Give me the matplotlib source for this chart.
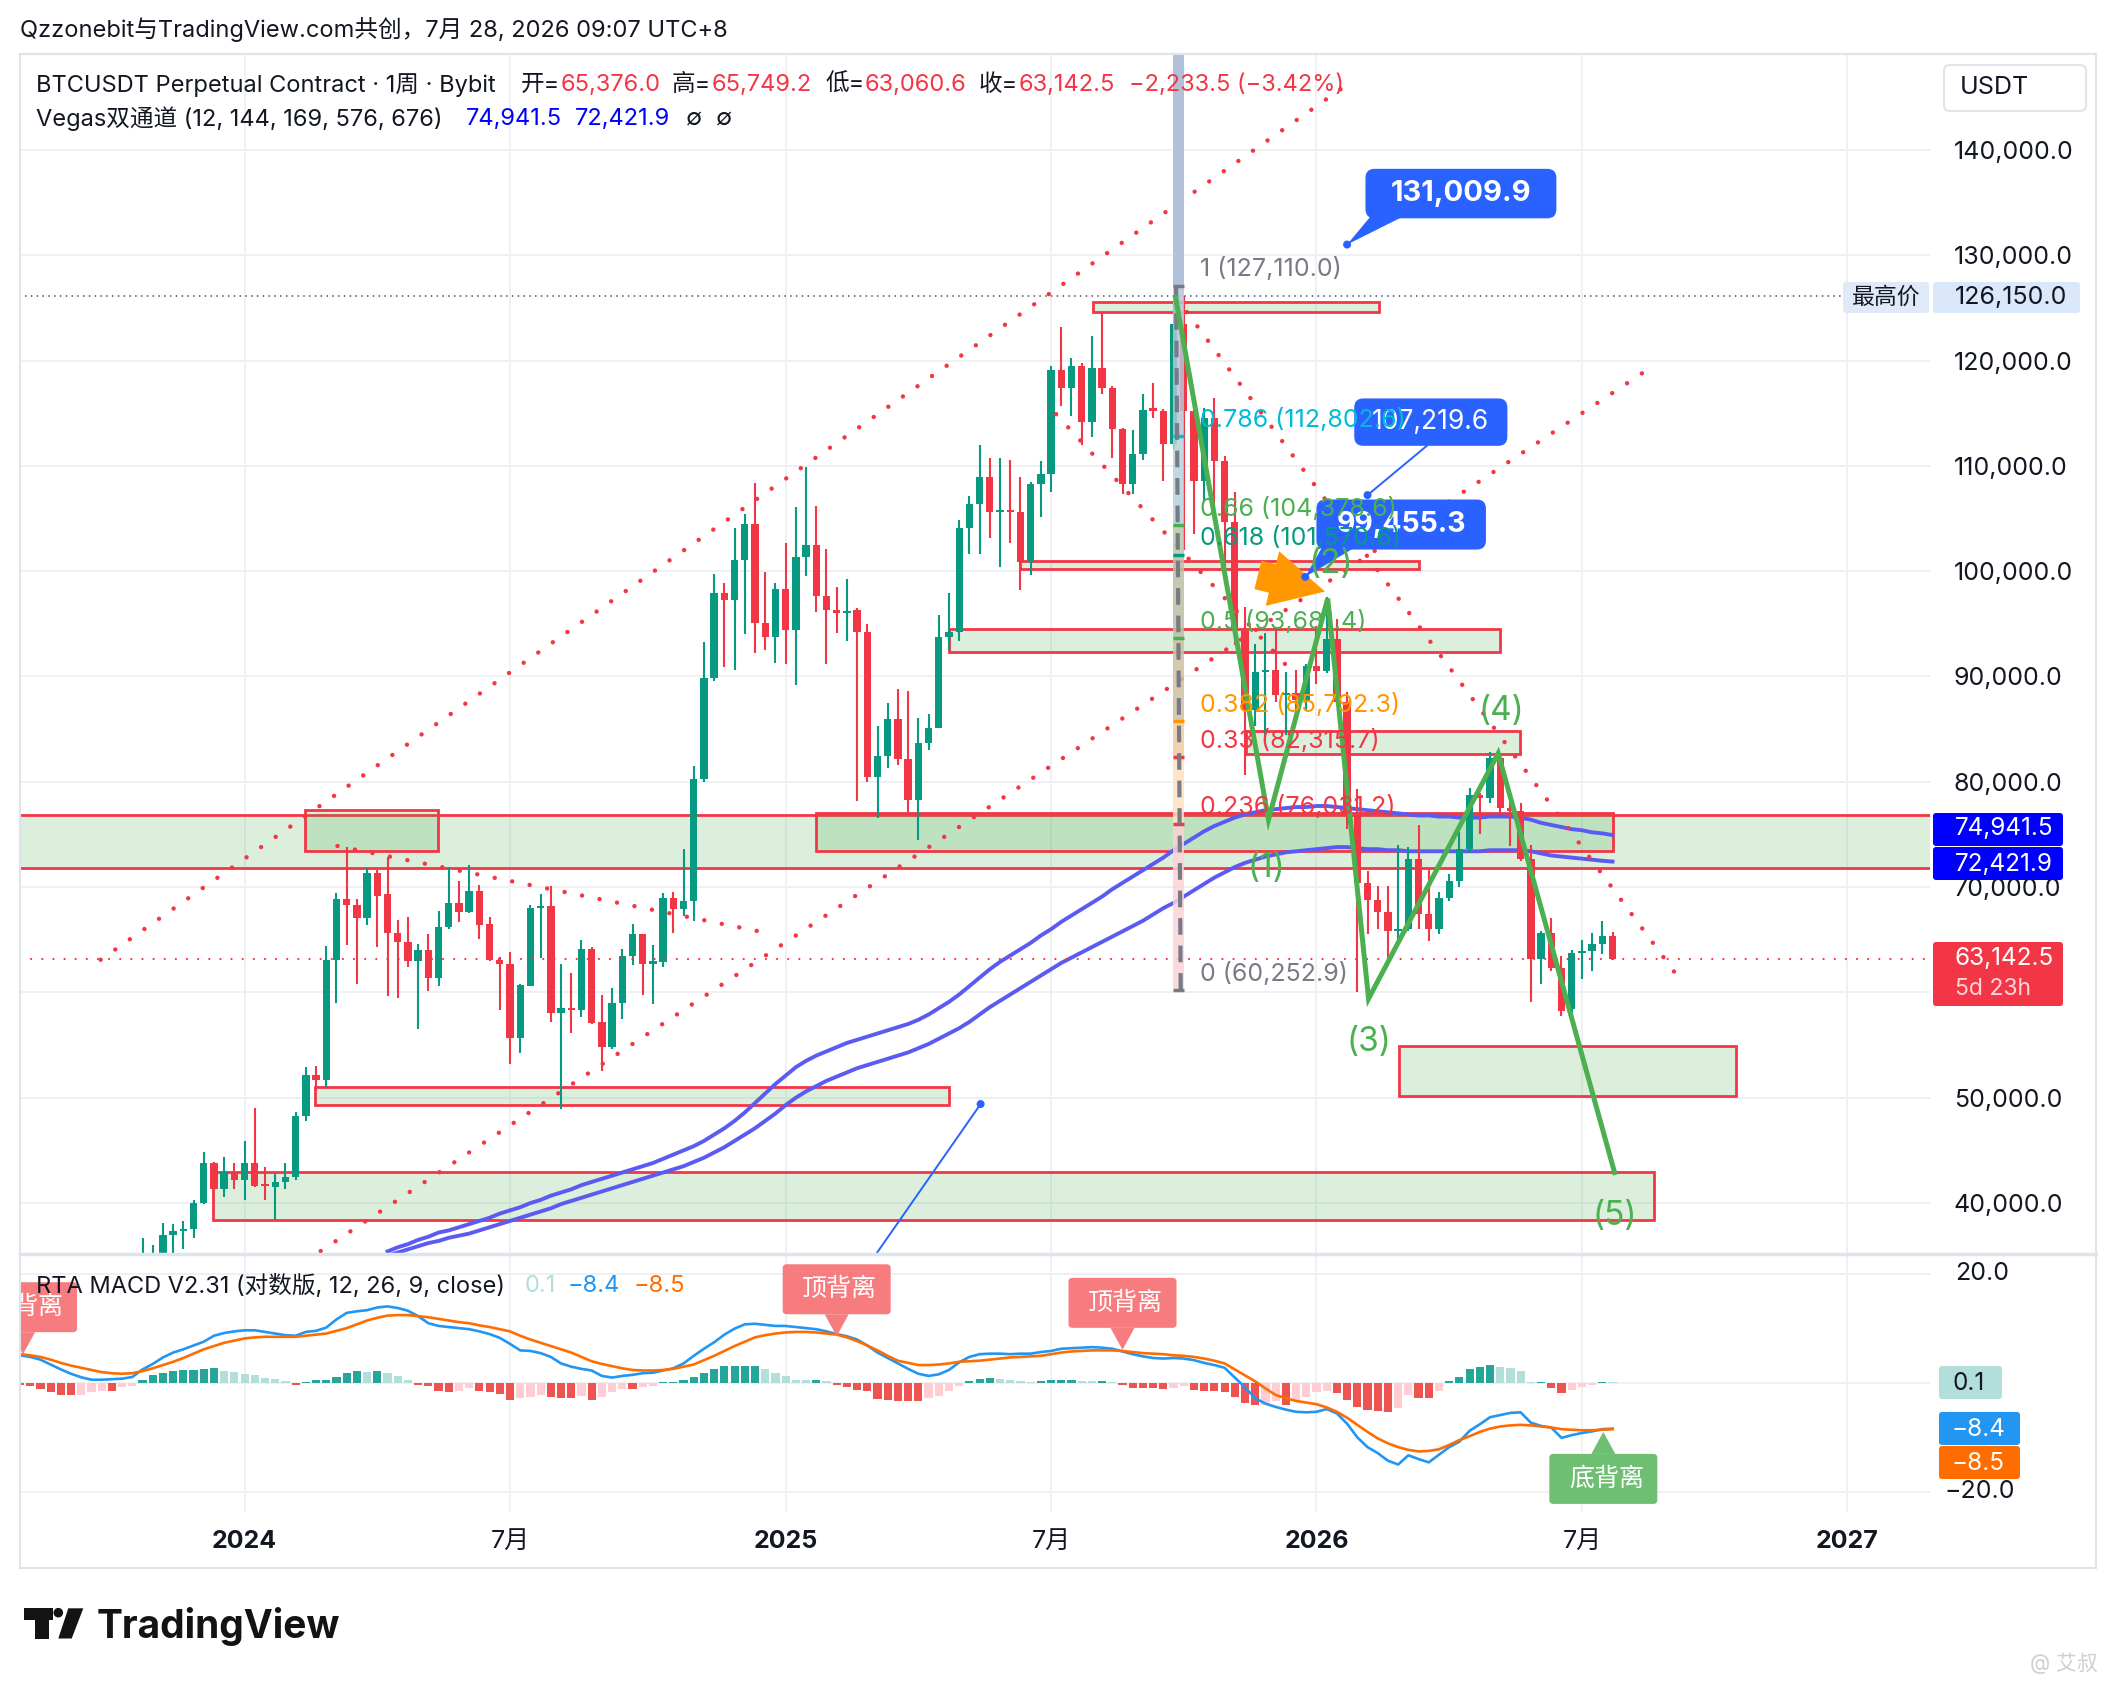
import numpy as np
import matplotlib
matplotlib.use("Agg")
import matplotlib.pyplot as plt
import matplotlib.transforms as mtransforms
from matplotlib.patches import Rectangle, Polygon, FancyBboxPatch, Circle, FancyArrowPatch
from matplotlib.lines import Line2D

plt.rcParams['font.family'] = ['Inter', 'Noto Sans CJK SC', 'DejaVu Sans']
plt.rcParams['axes.unicode_minus'] = False

W, H = 2110, 1684
DARK = '#131722'
UP = '#089981'
DOWN = '#f23645'
BLUE = '#2962ff'
GREEN = '#4caf50'
GRID = '#eef0f4'

# ---- weekly candles, bar 0 = week of 2023-10-23 (values in thousands USDT)
opens_k = [33.8, 34.6, 35.0, 37.0, 37.3, 37.5, 40.0, 43.8, 41.3, 42.9,
           42.2, 43.8, 41.7, 41.5, 42.0, 42.5, 48.3, 52.2, 51.7, 63.1,
           68.9, 68.3, 67.1, 71.3, 69.3, 65.6, 64.8, 63.0, 64.0, 61.4,
           66.2, 68.5, 67.6, 69.6, 66.5, 63.1, 62.7, 55.7, 60.6, 68.0,
           68.2, 58.0, 58.5, 58.3, 64.1, 57.2, 54.8, 59.0, 63.5, 65.5,
           62.7, 62.9, 69.0, 67.9, 68.7, 80.3, 89.9, 97.9, 97.3, 101.1,
           104.5, 95.1, 93.7, 98.3, 94.4, 101.3, 102.5, 97.6, 96.3, 96.0,
           96.3, 94.2, 80.5, 82.4, 86.0, 82.2, 78.3, 83.7, 85.1, 93.7,
           94.2, 104.1, 106.4, 108.9, 105.6, 105.7, 105.6, 100.9, 108.3, 109.2,
           119.1, 117.4, 119.5, 114.2, 119.3, 117.4, 113.5, 108.3, 111.1, 115.3,
           115.2, 112.1, 123.5, 115.2, 108.6, 114.5, 110.5, 104.7, 94.3, 86.8,
           90.4, 90.6, 88.2, 88.4, 87.8, 91.0, 90.5, 93.6, 87.6, 77.0,
           70.4, 68.8, 67.6, 65.8, 66.0, 72.7, 67.4, 66.0, 69.0, 70.6,
           73.6, 78.7, 78.5, 82.3, 77.5, 77.2, 72.7, 63.2, 65.6, 62.3,
           58.4, 63.7, 63.9, 64.6, 65.376]
highs_k = [36.7, 36.0, 38.1, 38.0, 38.3, 40.3, 44.8, 43.9, 44.4, 43.8,
           45.9, 49.0, 43.4, 42.8, 43.8, 48.6, 52.9, 53.0, 64.4, 69.4,
           73.8, 68.9, 71.8, 71.6, 72.9, 66.9, 67.2, 64.6, 65.5, 67.7,
           71.9, 70.6, 72.1, 70.2, 67.2, 63.4, 63.8, 60.8, 68.3, 69.3,
           70.1, 62.7, 61.8, 65.0, 64.3, 59.8, 60.4, 64.1, 66.5, 65.5,
           64.5, 69.4, 69.5, 73.6, 81.5, 93.3, 99.7, 98.9, 104.1, 105.4,
           108.4, 99.9, 98.9, 102.7, 106.1, 109.9, 106.2, 102.1, 98.5, 99.3,
           96.5, 95.0, 85.3, 87.5, 88.8, 88.6, 86.1, 86.4, 95.8, 97.9,
           104.9, 107.1, 112.0, 110.7, 110.7, 110.6, 108.9, 108.5, 110.5, 119.5,
           123.2, 120.2, 119.8, 122.3, 124.5, 117.6, 113.6, 113.4, 116.8, 117.9,
           115.4, 125.7, 126.15, 115.9, 115.5, 116.4, 110.9, 107.5, 96.6, 93.1,
           94.1, 94.6, 90.4, 90.6, 91.2, 94.8, 97.5, 95.5, 88.5, 79.3,
           71.5, 70.1, 70.1, 74.0, 73.8, 75.9, 71.6, 69.5, 71.2, 75.2,
           79.4, 78.9, 82.8, 82.6, 78.3, 78.0, 74.0, 65.8, 67.1, 63.5,
           64.0, 65.0, 65.6, 66.8, 65.7492]
lows_k = [33.5, 34.1, 34.6, 34.8, 35.6, 36.7, 39.9, 41.2, 40.6, 41.3,
          40.3, 41.5, 40.3, 38.4, 41.3, 42.2, 47.8, 50.6, 51.0, 59.0,
          64.5, 60.8, 66.4, 64.3, 59.7, 59.5, 62.4, 56.5, 60.1, 60.6,
          66.0, 66.7, 67.5, 65.1, 63.0, 58.3, 53.2, 54.2, 60.6, 63.3,
          57.2, 48.9, 56.1, 57.7, 57.0, 52.5, 54.6, 57.5, 62.6, 59.8,
          58.9, 62.4, 65.6, 67.3, 66.8, 80.0, 89.6, 90.9, 90.6, 94.0,
          92.2, 92.5, 91.3, 91.2, 89.2, 99.5, 96.1, 91.2, 94.1, 93.4,
          78.2, 80.0, 76.6, 81.3, 81.6, 77.1, 74.5, 83.0, 85.1, 92.5,
          93.4, 101.6, 101.6, 103.1, 100.4, 102.7, 98.2, 99.6, 105.1, 107.5,
          115.7, 114.7, 112.0, 112.7, 116.8, 110.7, 107.3, 107.3, 110.6, 114.5,
          108.6, 111.6, 102.0, 103.5, 106.7, 106.3, 98.9, 93.0, 80.6, 85.3,
          83.8, 87.6, 84.4, 86.6, 86.8, 89.3, 90.3, 87.3, 75.5, 60.0,
          65.5, 66.0, 63.2, 65.0, 65.8, 66.0, 64.9, 65.5, 68.7, 70.0,
          73.2, 75.0, 78.0, 76.9, 73.9, 72.5, 59.1, 60.8, 62.0, 57.8,
          57.9, 61.3, 62.0, 63.6, 63.0606]
closes_k = [34.6, 35.0, 37.0, 37.3, 37.5, 40.0, 43.8, 41.3, 42.9, 42.2,
            43.8, 41.6, 41.6, 42.0, 42.5, 48.3, 52.2, 51.7, 63.1, 68.9,
            68.3, 67.1, 71.3, 69.2, 65.6, 64.8, 63.0, 64.0, 61.4, 66.2,
            68.5, 67.6, 69.6, 66.4, 63.1, 62.7, 55.7, 60.7, 68.0, 68.2,
            58.0, 58.5, 58.3, 64.1, 57.1, 54.8, 59.0, 63.5, 65.5, 62.7,
            62.9, 69.0, 67.9, 68.7, 80.3, 89.9, 97.9, 97.3, 101.1, 104.5,
            95.1, 93.7, 98.3, 94.4, 101.3, 102.5, 97.6, 96.3, 96.0, 96.2,
            94.2, 80.5, 82.4, 86.0, 82.2, 78.3, 83.7, 85.1, 93.7, 94.2,
            104.1, 106.4, 108.9, 105.6, 105.7, 105.6, 100.9, 108.3, 109.2, 119.1,
            117.4, 119.5, 114.2, 119.3, 117.4, 113.5, 108.3, 111.1, 115.3, 115.2,
            112.1, 123.5, 115.2, 108.6, 114.5, 110.5, 104.7, 94.3, 86.8, 90.4,
            90.6, 88.2, 88.4, 87.8, 91.0, 90.5, 93.6, 87.6, 77.0, 70.4,
            68.8, 67.6, 65.8, 66.0, 72.7, 67.4, 66.0, 69.0, 70.6, 73.6,
            78.7, 78.5, 82.3, 77.5, 77.2, 72.7, 63.2, 65.6, 62.3, 58.2,
            63.7, 63.9, 64.6, 65.376, 63.1425]

# Vegas channel lines (bars 24..144)
vegas_upper_k = [35.4, 35.8, 36.1, 36.5, 36.8, 37.2, 37.4, 37.7, 38.0, 38.3,
                 38.6, 39.0, 39.3, 39.6, 40.0, 40.3, 40.7, 41.0, 41.3, 41.7,
                 42.0, 42.3, 42.6, 42.9, 43.2, 43.5, 43.8, 44.2, 44.6, 45.0,
                 45.4, 45.9, 46.5, 47.1, 47.8, 48.6, 49.5, 50.4, 51.3, 52.1,
                 52.9, 53.5, 54.0, 54.4, 54.8, 55.2, 55.5, 55.8, 56.1, 56.4,
                 56.7, 57.0, 57.4, 57.9, 58.5, 59.1, 59.8, 60.6, 61.4, 62.2,
                 62.9, 63.5, 64.1, 64.7, 65.4, 66.0, 66.7, 67.3, 67.9, 68.5,
                 69.1, 69.8, 70.4, 71.0, 71.6, 72.2, 72.8, 73.5, 74.1, 74.7,
                 75.3, 75.8, 76.2, 76.6, 76.9, 77.1, 77.3, 77.4, 77.5, 77.6,
                 77.6, 77.7, 77.7, 77.6, 77.5, 77.4, 77.3, 77.2, 77.1, 77.0,
                 76.9, 76.8, 76.8, 76.7, 76.7, 76.6, 76.6, 76.6, 76.7, 76.7,
                 76.7, 76.6, 76.4, 76.1, 75.9, 75.7, 75.5, 75.4, 75.2, 75.1,
                 74.9415]
vegas_lower_k = [35.0, 35.3, 35.6, 35.9, 36.2, 36.4, 36.7, 36.9, 37.1, 37.4,
                 37.7, 38.0, 38.3, 38.6, 38.9, 39.2, 39.5, 39.9, 40.2, 40.5,
                 40.8, 41.1, 41.4, 41.7, 42.0, 42.3, 42.6, 42.9, 43.2, 43.5,
                 43.9, 44.3, 44.8, 45.3, 45.9, 46.5, 47.1, 47.8, 48.5, 49.3,
                 50.0, 50.6, 51.1, 51.6, 52.0, 52.4, 52.8, 53.1, 53.4, 53.7,
                 54.0, 54.3, 54.7, 55.1, 55.6, 56.1, 56.6, 57.2, 57.9, 58.6,
                 59.2, 59.8, 60.4, 61.0, 61.6, 62.2, 62.8, 63.3, 63.8, 64.3,
                 64.8, 65.3, 65.8, 66.3, 66.8, 67.4, 68.0, 68.5, 69.1, 69.7,
                 70.3, 70.9, 71.4, 71.9, 72.3, 72.6, 72.9, 73.1, 73.3, 73.4,
                 73.5, 73.6, 73.7, 73.8, 73.8, 73.7, 73.6, 73.6, 73.5, 73.5,
                 73.4, 73.4, 73.4, 73.4, 73.4, 73.4, 73.4, 73.4, 73.5, 73.5,
                 73.5, 73.5, 73.4, 73.2, 73.0, 72.9, 72.8, 72.7, 72.6, 72.5,
                 72.4219]
vegas_first_bar = 24

# MACD pane (bars -12..144)
macd_first_bar = -12
macd_dif = [5.1, 4.8, 4.3, 3.4, 2.5, 1.7, 1.05, 0.6, 0.6, 0.7,
            0.8, 1.1, 2.5, 3.5, 4.7, 5.6, 6.2, 6.9, 7.6, 8.7,
            9.2, 9.5, 9.7, 9.7, 9.4, 9.1, 8.8, 8.7, 9.4, 9.6,
            10.2, 11.7, 12.9, 13.2, 13.4, 13.9, 14.1, 13.8, 13.3, 12.3,
            11.0, 10.5, 10.3, 10.1, 9.9, 9.5, 9.0, 8.3, 7.2, 6.0,
            5.9, 5.5, 4.8, 3.6, 3.0, 2.6, 2.3, 1.3, 1.0, 1.3,
            1.5, 1.8, 1.9, 2.3, 2.7, 3.6, 5.0, 6.3, 7.5, 8.9,
            10.0, 10.8, 10.9, 10.7, 10.5, 10.5, 10.3, 10.1, 9.9, 9.5,
            9.0, 8.6, 8.0, 6.9, 5.6, 4.6, 3.6, 2.6, 1.7, 1.3,
            1.6, 2.4, 3.8, 4.8, 5.3, 5.4, 5.4, 5.3, 5.4, 5.4,
            5.7, 5.9, 6.3, 6.4, 6.5, 6.6, 6.5, 6.3, 5.8, 5.3,
            4.9, 4.6, 4.5, 4.6, 4.5, 4.2, 3.7, 3.3, 2.8, 1.0,
            -0.8, -2.8, -3.8, -4.4, -4.9, -5.3, -5.4, -5.3, -4.8, -5.6,
            -7.5, -10.0, -11.8, -12.9, -14.3, -15.0, -13.3, -14.0, -14.6, -13.2,
            -11.8, -10.8, -8.8, -7.6, -6.3, -5.9, -5.5, -5.4, -7.3, -7.9,
            -8.2, -10.1, -9.6, -9.2, -8.9, -8.5, -8.4]
macd_dea = [5.3, 5.1, 4.8, 4.3, 3.7, 3.2, 2.8, 2.4, 2.0, 1.8,
            1.7, 1.8, 2.2, 2.7, 3.3, 3.9, 4.6, 5.4, 6.2, 6.8,
            7.4, 7.8, 8.2, 8.4, 8.5, 8.5, 8.5, 8.5, 8.7, 8.9,
            9.1, 9.6, 10.1, 10.8, 11.5, 12.0, 12.4, 12.5, 12.5, 12.3,
            12.1, 11.8, 11.5, 11.2, 11.0, 10.6, 10.3, 9.9, 9.5, 8.7,
            8.0, 7.4, 6.8, 6.2, 5.6, 4.8, 4.0, 3.5, 3.1, 2.7,
            2.4, 2.3, 2.3, 2.4, 2.6, 3.0, 3.4, 4.2, 5.0, 5.9,
            6.8, 7.6, 8.4, 8.8, 9.1, 9.3, 9.4, 9.4, 9.3, 9.1,
            8.9, 8.4, 7.7, 6.9, 6.0, 5.0, 4.1, 3.7, 3.3, 3.3,
            3.4, 3.6, 3.9, 4.0, 4.1, 4.3, 4.5, 4.7, 4.8, 4.9,
            5.0, 5.3, 5.6, 5.8, 5.9, 6.0, 6.0, 6.0, 5.9, 5.7,
            5.5, 5.4, 5.3, 5.1, 5.0, 4.8, 4.5, 4.1, 3.6, 2.5,
            1.4, 0.3, -1.0, -2.2, -2.8, -3.3, -3.6, -3.9, -4.5, -5.3,
            -6.4, -7.7, -9.0, -10.2, -11.1, -11.8, -12.3, -12.6, -12.5, -12.2,
            -11.4, -10.5, -9.8, -9.0, -8.4, -8.0, -7.8, -7.7, -7.8, -8.0,
            -8.2, -8.5, -8.6, -8.7, -8.7, -8.6, -8.5]
macd_hist = [-0.4, -0.6, -1.1, -1.7, -2.3, -2.3, -2.2, -1.7, -1.4, -1.4,
             -0.8, -0.5, 0.6, 1.4, 1.9, 2.3, 2.4, 2.4, 2.6, 2.7,
             2.3, 2.0, 1.7, 1.5, 1.0, 0.7, 0.3, -0.3, 0.1, 0.5,
             0.6, 1.1, 1.9, 2.3, 2.0, 2.2, 1.9, 1.2, 0.6, -0.3,
             -0.6, -1.5, -1.6, -1.5, -1.0, -1.5, -1.7, -2.1, -3.2, -2.8,
             -2.5, -2.2, -2.6, -2.8, -2.8, -2.4, -3.1, -2.5, -1.6, -1.1,
             -1.1, -0.8, -0.6, 0.1, 0.2, 0.6, 1.05, 1.9, 2.6, 3.1,
             3.2, 3.2, 3.2, 2.5, 1.9, 1.2, 0.6, 0.5, 0.5, 0.3,
             -0.3, -0.8, -1.2, -1.5, -2.9, -3.1, -3.3, -3.4, -3.4, -2.8,
             -2.4, -1.5, -0.6, 0.3, 0.7, 0.9, 0.8, 0.6, 0.4, 0.2,
             0.4, 0.5, 0.6, 0.6, 0.4, 0.3, 0.3, 0.1, -0.4, -0.9,
             -0.9, -0.9, -1.1, -0.9, -0.6, -1.2, -1.4, -1.4, -1.7, -2.5,
             -3.7, -4.1, -4.0, -3.4, -4.0, -3.4, -2.5, -1.6, -1.4, -1.9,
             -3.1, -4.5, -4.9, -5.1, -5.3, -4.6, -2.3, -2.7, -2.7, -1.4,
             0.3, 1.05, 2.6, 2.9, 3.4, 3.0, 2.8, 2.2, 0.2, 0.2,
             -0.9, -1.9, -1.2, -0.8, -0.3, 0.2, 0.1]

# time axis labels (bar index of the first week of each period)
tick_bars = [10, 36, 63, 89, 115, 141, 167]
tick_labels = ['2024', '7月', '2025', '7月', '2026', '7月', '2027']
price_ticks = [40000, 50000, 60000, 70000, 80000, 90000, 100000, 110000, 120000, 130000, 140000]

# drawings
fib_high, fib_low = 127110.0, 60252.9
fib_ratios = [1, 0.786, 0.66, 0.618, 0.5, 0.382, 0.33, 0.236, 0]
fib_texts = ['1 (127,110.0)', '0.786 (112,802.6)', '0.66 (104,378.6)', '0.618 (101,570.6)',
             '0.5 (93,681.4)', '0.382 (85,792.3)', '0.33 (82,315.7)', '0.236 (76,031.2)', '0 (60,252.9)']
fib_colors = ['#787b86', '#00bcd4', '#4caf50', '#089981', '#4caf50', '#ff9800', '#f23645', '#f23645', '#787b86']
wave_bars = [101.2, 110.3, 116.1, 120.1, 132.8, 144.2]
wave_prices = [126000, 76400, 97400, 59400, 82700, 42900]
wave_names = ['(1)', '(2)', '(3)', '(4)', '(5)']
wave_label_pos = [(110.1, 71800), (116.4, 100700), (120.1, 55300), (133.1, 86700), (144.2, 38800)]
ath_price = 126150.0
last_close = 63142.5

# zones: (bar0, bar1, low, high)
zones = [(-14, 180, 71800, 76860), (15.9, 28.9, 73430, 77300), (66.0, 144.0, 73450, 77050),
         (16.9, 79.0, 49300, 51050), (6.93, 148.1, 38400, 42950), (123.1, 156.1, 50130, 54870),
         (108.1, 134.9, 82670, 84790), (79.0, 133.0, 92350, 94500), (86.0, 125.0, 100200, 100950),
         (93.1, 121.1, 124600, 125600)]
# dotted trend lines: (bar0, price0, bar1, price1)
trend_lines = [(-4.1, 63100, 118.3, 146400), (16.0, 34500, 148.0, 119500),
               (19.1, 73900, 61.4, 65600), (102.3, 124600, 150.7, 61100),
               (89.5, 114900, 112.0, 91100)]

fig = plt.figure(figsize=(W / 100, H / 100), dpi=100)
fig.patch.set_facecolor('white')


def ax_rect(x0, y0, x1, y1):
    return [x0 / W, 1 - y1 / H, (x1 - x0) / W, (y1 - y0) / H]


ax = fig.add_axes(ax_rect(20, 54, 1930, 1253))
axm = fig.add_axes(ax_rect(20, 1254, 1930, 1512))
XMIN, XMAX = -12.0, 175.1
PMIN, PMAX = 35256, 149103
for a in (ax, axm):
    a.set_xlim(XMIN, XMAX)
    for s in a.spines.values():
        s.set_visible(False)
    a.set_xticks(tick_bars)
    a.tick_params(axis='x', length=0, labelbottom=False)
    a.grid(True, color=GRID, lw=1.4, zorder=0)
    a.set_axisbelow(True)
ax.set_ylim(PMIN, PMAX)
ax.yaxis.tick_right()
ax.set_yticks(price_ticks)
# 60,000 sits under the last-price tag, as in TradingView
ax.set_yticklabels(['' if p == 60000 else f'{p:,.1f}' for p in price_ticks])
ax.tick_params(axis='y', length=0, pad=17, labelsize=18, labelcolor=DARK)

# zones
for b0, b1, lo, hi in zones:
    ax.add_patch(Rectangle((b0, lo), b1 - b0, hi - lo, fc=(76 / 255, 175 / 255, 80 / 255, 0.2),
                           ec=DOWN, lw=2.0, zorder=1))

# vegas channel
vx = np.arange(vegas_first_bar, vegas_first_bar + len(vegas_upper_k))
ax.plot(vx, np.array(vegas_upper_k) * 1000, color='#5b5bf2', lw=2.8, zorder=2)
ax.plot(vx, np.array(vegas_lower_k) * 1000, color='#5b5bf2', lw=2.8, zorder=2)

# candles
o = np.array(opens_k) * 1000
h = np.array(highs_k) * 1000
l = np.array(lows_k) * 1000
c = np.array(closes_k) * 1000
bars = np.arange(len(o))
cols = np.where(c >= o, UP, DOWN)
ax.vlines(bars, l, h, colors=cols, lw=1.5, zorder=3)
ax.bar(bars, np.maximum(np.abs(c - o), 250), bottom=np.minimum(o, c), width=0.72,
       color=cols, zorder=3)

# price lines
ax.plot([XMIN, 166.5], [ath_price, ath_price], color='#50535e', lw=1.3,
        linestyle=(0, (0.01, 3.2)), dash_capstyle='round', zorder=4)
ax.plot([XMIN, XMAX], [last_close, last_close], color=DOWN, lw=1.6,
        linestyle=(0, (0.01, 5)), dash_capstyle='round', zorder=4)
for b0, p0, b1, p1 in trend_lines:
    ax.plot([b0, b1], [p0, p1], color=DOWN, lw=3.2, linestyle=(0, (0.01, 4)),
            dash_capstyle='round', zorder=4)

# fibonacci band
fib_prices = [fib_low + r * (fib_high - fib_low) for r in fib_ratios]
fx0, fx1 = 100.92, 101.98
band_cols = ['#b6c5da', '#b5d3dc', '#b6c9ad', '#bcc0a4', '#cfc0a0', '#f3cba3', '#ffe2c0', '#fcd3d7']
ax.add_patch(Rectangle((fx0, fib_high), fx1 - fx0, PMAX - fib_high, fc='#b0c1d9', ec='none', zorder=5))
for i in range(len(fib_prices) - 1):
    ax.add_patch(Rectangle((fx0, fib_prices[i + 1]), fx1 - fx0, fib_prices[i] - fib_prices[i + 1],
                           fc=band_cols[i], ec='none', alpha=0.85, zorder=5))
for fp, col in zip(fib_prices, fib_colors):
    ax.plot([fx0, fx1], [fp, fp], color=col, lw=2.5, zorder=6, solid_capstyle='butt')
ax.plot([101.25, 101.7], [fib_high, fib_low], color='#787b86', lw=3, linestyle=(0, (4, 2.6)), zorder=6)

# green wave count
ax.plot(wave_bars, wave_prices, color=GREEN, lw=3.6, zorder=7, solid_joinstyle='miter')
for name, (bx, by) in zip(wave_names, wave_label_pos):
    ax.text(bx, by, name, color=GREEN, fontsize=24, ha='center', va='center', zorder=11)

# orange arrow
ax.add_patch(FancyArrowPatch((109.0, 99700), (116.1, 98000),
                             arrowstyle='simple,head_length=1.3,head_width=1.35,tail_width=0.7',
                             mutation_scale=30, color='#ff9800', lw=0, zorder=8))

ID = mtransforms.IdentityTransform()


def px(a, x, y):
    return a.transData.transform((x, y))


def callout(b0, p0, b1, p1, tip, text, size, bold, pointer='wedge'):
    x0, y0 = px(ax, b0, p0)
    x1, y1 = px(ax, b1, p1)
    tx, ty = px(ax, *tip)
    ax.add_patch(FancyBboxPatch((x0, y0), x1 - x0, y1 - y0, boxstyle='round,pad=0,rounding_size=9',
                                transform=ID, fc=BLUE, ec='none', zorder=9))
    if pointer == 'wedge':
        ax.add_patch(Polygon([(x0 + 6, y0 + 3), (x0 + 40, y0 + 3), (tx, ty)], closed=True,
                             transform=ID, fc=BLUE, ec='none', zorder=9))
    else:
        ax.add_artist(Line2D([(x0 + x1) / 2 - 4, tx], [y0, ty], transform=ID, color=BLUE, lw=1.4, zorder=9))
    ax.add_patch(Circle((tx, ty), 4, transform=ID, fc=BLUE, ec='none', zorder=9))
    ax.text((x0 + x1) / 2, (y0 + y1) / 2, text, transform=ID, color='white', fontsize=size,
            fontweight='bold' if bold else 'normal', ha='center', va='center', zorder=9)


callout(119.8, 133500, 138.5, 138200, (118.0, 131009.9), '131,009.9', 21, True)
callout(118.7, 111900, 133.7, 116400, (120.0, 107219.6), '107,219.6', 19, False, pointer='line')
callout(115.0, 102050, 131.6, 106800, (113.9, 99455.3), '99,455.3', 20.5, True)
lx0, ly0 = px(ax, 82.1, 49400)
lx1, ly1 = px(ax, 66.0, 27000)
ax.add_artist(Line2D([lx0, lx1], [ly0, ly1], transform=ID, color=BLUE, lw=1.4, zorder=9))
ax.add_patch(Circle((lx0, ly0), 4, transform=ID, fc=BLUE, ec='none', zorder=9))

# fib labels on top
for fp, txt, col in zip(fib_prices, fib_texts, fib_colors):
    ax.annotate(txt, (103.6, fp), xytext=(0, 3), textcoords='offset points', color=col,
                fontsize=18, ha='left', va='bottom', zorder=10)

# ---- MACD pane
mx = np.arange(macd_first_bar, macd_first_bar + len(macd_hist))
hist = np.array(macd_hist)
prev = np.concatenate([[hist[0]], hist[:-1]])
hcols = []
for hv, pv in zip(hist, prev):
    if hv >= 0:
        hcols.append('#26a69a' if hv >= pv else '#b2dfdb')
    else:
        hcols.append('#ef5350' if hv <= pv else '#ffcdd2')
axm.set_ylim(-23.74, 23.74)
axm.set_yticks([-20, 0, 20])
axm.tick_params(axis='y', length=0, labelleft=False, labelright=False)
axm.bar(mx, hist, width=0.8, color=hcols, zorder=2)
axm.plot(mx, macd_dif, color='#2196f3', lw=1.9, zorder=3)
axm.plot(mx, macd_dea, color='#ff6d00', lw=1.9, zorder=3)


def div_label(bar, val, text, color, up=False):
    tx, ty = px(axm, bar, val)
    bw, bh, gap = 108, 50, 22
    if up:
        top = ty - gap
        y0 = top - bh
        tri = [(tx - 12, top), (tx + 12, top), (tx, ty)]
    else:
        y0 = ty + gap
        tri = [(tx - 12, y0), (tx + 12, y0), (tx, ty)]
    axm.add_patch(FancyBboxPatch((tx - bw / 2, y0), bw, bh, boxstyle='round,pad=0,rounding_size=4',
                                 transform=ID, fc=color, ec='none', zorder=6))
    axm.add_patch(Polygon(tri, closed=True, transform=ID, fc=color, ec='none', zorder=6))
    axm.text(tx + 3, y0 + bh / 2, text, transform=ID, color='white', fontsize=18,
             ha='center', va='center', zorder=7, clip_on=True)


div_label(-11.7, 5.3, '顶背离', '#f77c80')
div_label(68.0, 8.6, '顶背离', '#f77c80')
div_label(96.0, 6.1, '顶背离', '#f77c80')
div_label(143.1, -9.0, '底背离', '#6fbf73', up=True)

ax.set_xlim(XMIN, XMAX)
ax.set_ylim(PMIN, PMAX)
axm.set_xlim(XMIN, XMAX)
axm.set_ylim(-23.74, 23.74)

# ---- figure level texts and frames
renderer = fig.canvas.get_renderer()


def ftext(x, y, s, **kw):
    kw.setdefault('zorder', 6)
    return fig.text(x / W, 1 - y / H, s, **kw)


def run_text(x, y, parts, size):
    for s, col in parts:
        t = ftext(x, y, s, color=col, fontsize=size, ha='left', va='center')
        x += t.get_window_extent(renderer).width
    return x


def px_box(x0, y0, x1, y1, fc, ec='none', r=4, lw=0, z=5):
    fig.add_artist(FancyBboxPatch((x0, H - y1), x1 - x0, y1 - y0,
                                  boxstyle=f'round,pad=0,rounding_size={r}', transform=ID,
                                  fc=fc, ec=ec, lw=lw, zorder=z))


for xs, ys in [([20, 2096], [54, 54]), ([20, 2096], [1568, 1568]), ([20, 20], [54, 1568]),
               ([2096, 2096], [54, 1568])]:
    fig.add_artist(Line2D(xs, [H - y for y in ys], transform=ID, color='#e0e3eb', lw=1.5, zorder=4))
fig.add_artist(Line2D([20, 2096], [H - 1253.5, H - 1253.5], transform=ID, color='#e0e3eb', lw=2.5, zorder=4))

HS = 17
ftext(20, 30, 'Qzzonebit与TradingView.com共创，7月 28, 2026 09:07 UTC+8', fontsize=17, color=DARK,
      ha='left', va='center')
run_text(36, 85, [('BTCUSDT Perpetual Contract · 1周 · Bybit', DARK)], HS)
run_text(521, 85, [('开=', DARK), ('65,376.0', DOWN)], HS)
run_text(672, 85, [('高=', DARK), ('65,749.2', DOWN)], HS)
run_text(825, 85, [('低=', DARK), ('63,060.6', DOWN)], HS)
run_text(979, 85, [('收=', DARK), ('63,142.5', DOWN)], HS)
run_text(1129, 85, [('−2,233.5 (−3.42%)', DOWN)], HS)
run_text(36, 119, [('Vegas双通道 (12, 144, 169, 576, 676)', DARK)], HS)
ftext(466, 119, '74,941.5', color='#0000ff', fontsize=HS, va='center')
ftext(575, 119, '72,421.9', color='#0000ff', fontsize=HS, va='center')
ftext(686, 119, '∅', color=DARK, fontsize=HS, va='center')
ftext(716, 119, '∅', color=DARK, fontsize=HS, va='center')

run_text(36, 1286, [('RTA MACD V2.31 (对数版, 12, 26, 9, close)', DARK)], HS)
ftext(525, 1286, '0.1', color='#b2dfdb', fontsize=HS, va='center')
ftext(568, 1286, '−8.4', color='#2196f3', fontsize=HS, va='center')
ftext(634, 1286, '−8.5', color='#ff6d00', fontsize=HS, va='center')

# right axis boxes
px_box(1944, 65, 2086, 111, 'white', ec='#e0e3eb', r=6, lw=1.5)
ftext(1960, 88, 'USDT', color=DARK, fontsize=18, va='center')
px_box(1843, 282, 1929, 313, '#dfe9f8', r=3)
ftext(1886, 298, '最高价', color=DARK, fontsize=16.5, ha='center', va='center')
px_box(1933, 282, 2080, 313, '#dbe7fb', r=3)
ftext(1955, 298, '126,150.0', color=DARK, fontsize=18, va='center')
px_box(1933, 813, 2063, 846, '#0000ff', r=3)
ftext(1955, 829, '74,941.5', color='white', fontsize=17.5, va='center')
px_box(1933, 847, 2063, 880, '#0000ff', r=3)
ftext(1955, 864, '72,421.9', color='white', fontsize=17.5, va='center')
px_box(1933, 942, 2063, 1006, DOWN, r=3)
ftext(1955, 959, '63,142.5', color='white', fontsize=17.5, va='center')
ftext(1955, 989, '5d 23h', color='#ffd6da', fontsize=16.5, va='center')

ftext(1955, 1274, '20.0', color=DARK, fontsize=18, va='center')
ftext(1944, 1492, '−20.0', color=DARK, fontsize=18, va='center')
px_box(1939, 1366, 2002, 1399, '#b2dfdb', r=3)
ftext(1952, 1383, '0.1', color=DARK, fontsize=17.5, va='center')
px_box(1939, 1412, 2020, 1445, '#2196f3', r=3)
ftext(1952, 1429, '−8.4', color='white', fontsize=17.5, va='center')
px_box(1939, 1446, 2020, 1479, '#ff6d00', r=3)
ftext(1952, 1463, '−8.5', color='white', fontsize=17.5, va='center')

# time axis
tb = mtransforms.blended_transform_factory(axm.transData, fig.transFigure)
for tbar, lab in zip(tick_bars, tick_labels):
    fig.text(tbar, 1 - 1541 / H, lab, transform=tb, ha='center', va='center', fontsize=18,
             color=DARK, fontweight='normal' if '月' in lab else 'bold')

# TradingView logo
fig.add_artist(Rectangle((24, H - 1620), 29, 12, transform=ID, fc='#131313', ec='none'))
fig.add_artist(Rectangle((35, H - 1638.5), 14.3, 30, transform=ID, fc='#131313', ec='none'))
fig.add_artist(Circle((58.3, H - 1612.7), 4.8, transform=ID, fc='#131313', ec='none'))
fig.add_artist(Polygon([(68.3, H - 1608.3), (83.3, H - 1608.3), (71.7, H - 1638.5), (58.3, H - 1638.5)],
                       closed=True, transform=ID, fc='#131313', ec='none'))
ftext(97, 1638, 'TradingView', color='#131313', fontsize=28, fontweight='bold', ha='left', va='baseline')
ftext(2030, 1663, '@ 艾叔', color='#d0d0d0', fontsize=15, ha='left', va='center')

fig.savefig('out.png', dpi=100, facecolor='white')
